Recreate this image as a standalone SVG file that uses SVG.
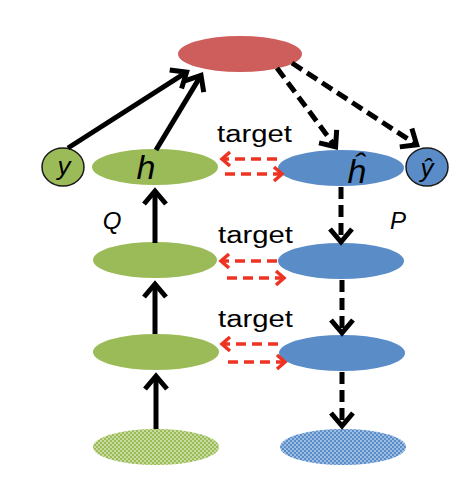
<svg xmlns="http://www.w3.org/2000/svg" width="474" height="481" viewBox="0 0 474 481">
<style>
.lbl{font-family:"Liberation Sans",Arial,sans-serif;fill:#000}
.it{font-family:"Liberation Sans",Arial,sans-serif;font-style:italic;fill:#000}
.solid{stroke:#000;stroke-width:5;fill:none}
.dash{stroke:#000;stroke-width:5;fill:none;stroke-dasharray:12 6}
.rdash{stroke:#ee3322;stroke-width:3.5;fill:none;stroke-dasharray:10 6}
.green{fill:#9bbb59}
.blue{fill:#5a8dc8}
</style>
<defs>
<marker id="ah" markerUnits="userSpaceOnUse" viewBox="-20 -15 25 30" refX="0" refY="0" markerWidth="25" markerHeight="30" orient="auto">
<path d="M-13,-11 L0,0 L-13,11" fill="none" stroke="#000" stroke-width="5" stroke-linejoin="miter" stroke-miterlimit="10"/>
</marker>
<marker id="rh" markerUnits="userSpaceOnUse" viewBox="-12 -10 16 20" refX="0" refY="0" markerWidth="16" markerHeight="20" orient="auto">
<path d="M-8,-7 L0,0 L-8,7" fill="none" stroke="#ee3322" stroke-width="3.5" stroke-linejoin="miter" stroke-miterlimit="10"/>
</marker>
<pattern id="pg" width="4" height="4" patternUnits="userSpaceOnUse">
<rect width="4" height="4" fill="#9bbb59"/>
<rect width="2" height="2" fill="#c9dca0"/>
<rect x="2" y="2" width="2" height="2" fill="#c9dca0"/>
</pattern>
<pattern id="pb" width="4" height="4" patternUnits="userSpaceOnUse">
<rect width="4" height="4" fill="#5a8dc8"/>
<rect width="2" height="2" fill="#9ebde2"/>
<rect x="2" y="2" width="2" height="2" fill="#9ebde2"/>
</pattern>
</defs>
<rect width="474" height="481" fill="#fff"/>

<g id="top"><ellipse cx="240" cy="54" rx="62" ry="18" fill="#cd5e5b"/></g>

<g id="y_obs">
<ellipse cx="63" cy="167" rx="21" ry="19" class="green" stroke="#1a1a1a" stroke-width="1.5"/>
<text x="64" y="175" class="it" font-size="26" text-anchor="middle">y</text>
</g>
<g id="q1">
<ellipse cx="155" cy="167" rx="63" ry="18" class="green"/>
<text x="146" y="179" class="it" font-size="34" text-anchor="middle">h</text>
</g>
<g id="q2"><ellipse cx="155" cy="260" rx="62" ry="18" class="green"/></g>
<g id="q3"><ellipse cx="156" cy="352" rx="63" ry="18" class="green"/></g>
<g id="q4"><ellipse cx="156" cy="447" rx="63" ry="18" fill="url(#pg)"/></g>

<g id="p1">
<ellipse cx="341" cy="168" rx="63" ry="18" class="blue"/>
<text x="357" y="183" class="it" font-size="34" text-anchor="middle">ĥ</text>
</g>
<g id="y_gen">
<ellipse cx="427" cy="167" rx="21" ry="19" class="blue" stroke="#1a1a1a" stroke-width="1.5"/>
<text x="427" y="177" class="it" font-size="26" text-anchor="middle">ŷ</text>
</g>
<g id="p2"><ellipse cx="341" cy="261" rx="63" ry="18" class="blue"/></g>
<g id="p3"><ellipse cx="342" cy="353" rx="63" ry="18" class="blue"/></g>
<g id="p4"><ellipse cx="343" cy="447" rx="63" ry="18" fill="url(#pb)"/></g>

<g id="labels">
<text x="112" y="229" class="it" font-size="24" text-anchor="middle">Q</text>
<text x="398" y="229" class="it" font-size="24" text-anchor="middle">P</text>
<text x="217" y="142" class="lbl" font-size="23" textLength="75" lengthAdjust="spacingAndGlyphs">target</text>
<text x="218" y="243" class="lbl" font-size="23" textLength="75" lengthAdjust="spacingAndGlyphs">target</text>
<text x="218" y="327" class="lbl" font-size="23" textLength="75" lengthAdjust="spacingAndGlyphs">target</text>
</g>

<g id="connectors">
<line x1="68" y1="148" x2="186.6" y2="72.2" class="solid" marker-end="url(#ah)"/>
<line x1="156" y1="150" x2="201" y2="75.4" class="solid" marker-end="url(#ah)"/>
<line x1="277" y1="68" x2="335.6" y2="146.8" class="dash" marker-end="url(#ah)"/>
<line x1="292" y1="63" x2="416.7" y2="144.8" class="dash" marker-end="url(#ah)"/>

<line x1="155" y1="243" x2="155" y2="191" class="solid" marker-end="url(#ah)"/>
<line x1="155" y1="334" x2="155" y2="284" class="solid" marker-end="url(#ah)"/>
<line x1="156" y1="429" x2="156" y2="376" class="solid" marker-end="url(#ah)"/>

<line x1="341" y1="187" x2="341" y2="242" class="dash" marker-end="url(#ah)"/>
<line x1="342" y1="280" x2="342" y2="333" class="dash" marker-end="url(#ah)"/>
<line x1="342" y1="372" x2="342" y2="426" class="dash" marker-end="url(#ah)"/>

<line x1="277" y1="159" x2="222" y2="159" class="rdash" marker-end="url(#rh)"/>
<line x1="225" y1="174" x2="282" y2="174" class="rdash" marker-end="url(#rh)"/>
<line x1="277" y1="261" x2="221" y2="261" class="rdash" marker-end="url(#rh)"/>
<line x1="227" y1="278" x2="284" y2="278" class="rdash" marker-end="url(#rh)"/>
<line x1="278" y1="344" x2="222" y2="344" class="rdash" marker-end="url(#rh)"/>
<line x1="228" y1="362" x2="285" y2="362" class="rdash" marker-end="url(#rh)"/>
</g>
</svg>
